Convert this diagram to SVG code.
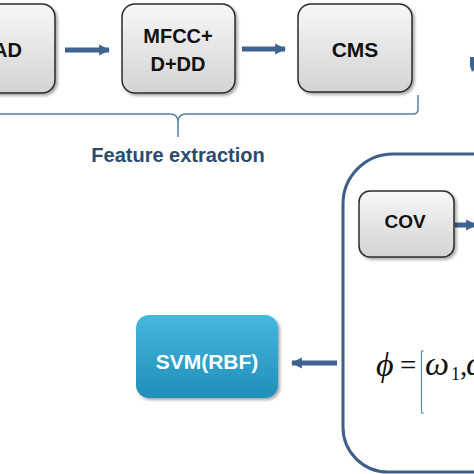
<svg xmlns="http://www.w3.org/2000/svg" width="474" height="474" viewBox="0 0 474 474">
<defs>
<linearGradient id="gGrey" x1="0" y1="0" x2="0" y2="1">
<stop offset="0" stop-color="#f7f7f7"/>
<stop offset="1" stop-color="#d3d3d3"/>
</linearGradient>
<linearGradient id="gBlue" x1="0" y1="0" x2="0" y2="1">
<stop offset="0" stop-color="#45b8df"/>
<stop offset="1" stop-color="#1f8fb9"/>
</linearGradient>
<filter id="sh" x="-20%" y="-20%" width="140%" height="140%">
<feDropShadow dx="2" dy="2" stdDeviation="1.5" flood-color="#000" flood-opacity="0.35"/>
</filter>
<marker id="ah" viewBox="0 0 10 10" refX="9" refY="5" markerWidth="2.2" markerHeight="2.6" orient="auto" markerUnits="strokeWidth">
<path d="M0,0 L10,5 L0,10 Z" fill="#3f6290"/>
</marker>
</defs>
<style>
.box{fill:url(#gGrey);stroke:#2b2b2b;stroke-width:1.5;filter:url(#sh)}
.lbl{font-family:"Liberation Sans",Arial,sans-serif;font-weight:bold;font-size:20px;fill:#111;text-anchor:middle}
.arr{stroke:#3f6290;stroke-width:5;fill:none;marker-end:url(#ah)}
.math{font-family:"Liberation Serif","Times New Roman",serif;font-size:34px;fill:#111}
</style>
<rect width="474" height="474" fill="#fff"/>
<g id="connectors">
<line class="arr" x1="65" y1="50" x2="109" y2="50"/>
<line class="arr" x1="242" y1="49" x2="285" y2="49"/>
<line class="arr" x1="455" y1="225" x2="476" y2="225"/>
<line class="arr" x1="337" y1="363" x2="292" y2="363"/>
<polygon points="470,57 474,57 474,70 472,72 470,66" fill="#3f6290"/>
</g>
<g id="node-vad">
<rect class="box" x="-60" y="4" width="115" height="89" rx="13"/>
<text class="lbl" x="22" y="57" style="text-anchor:end">AD</text>
</g>
<g id="node-mfcc">
<rect class="box" x="122" y="4" width="113" height="89" rx="13"/>
<text class="lbl" x="178" y="43">MFCC+</text>
<text class="lbl" x="178" y="71">D+DD</text>
</g>
<g id="node-cms">
<rect class="box" x="298" y="4" width="114" height="88" rx="13"/>
<text class="lbl" x="355" y="57" style="font-size:21px">CMS</text>
</g>
<g id="brace">
<path d="M-2,114 H170 Q178,114 178,122 V137 M178,122 Q178,114 186,114 H413 Q418,114 418,109 V95" fill="none" stroke="#5b7ca3" stroke-width="1.5"/>
<text x="178" y="162" style="font-family:'Liberation Sans',Arial,sans-serif;font-weight:bold;font-size:20px;fill:#2c4a6e;text-anchor:middle">Feature extraction</text>
</g>
<g id="container">
<path d="M476,154 H393 A50,50 0 0 0 343,204 V427 A45,45 0 0 0 388,472 H476" fill="none" stroke="#3d5f8a" stroke-width="3"/>
</g>
<g id="node-cov">
<rect class="box" x="359" y="191" width="95" height="66" rx="11"/>
<text class="lbl" x="405" y="228" style="font-size:19px">COV</text>
</g>
<g id="node-svm">
<rect x="136" y="315" width="142" height="83" rx="13" fill="url(#gBlue)" filter="url(#sh)"/>
<text class="lbl" x="207" y="369" style="font-size:21px;fill:#fff">SVM(RBF)</text>
</g>
<g id="formula">
<path d="M424,351 H421.5 V413 H424" fill="none" stroke="#5b8ac0" stroke-width="1.2"/>
<text class="math" x="376" y="376" style="font-style:italic">ϕ</text>
<text class="math" x="400" y="375" style="font-size:29px">=</text>
<text class="math" x="425" y="375" style="font-style:italic">ω</text>
<text class="math" x="451" y="380" style="font-size:18px">1</text>
<text class="math" x="460" y="375" style="font-size:29px">,</text>
<text class="math" x="466" y="375" style="font-style:italic">ω</text>
</g>
</svg>
